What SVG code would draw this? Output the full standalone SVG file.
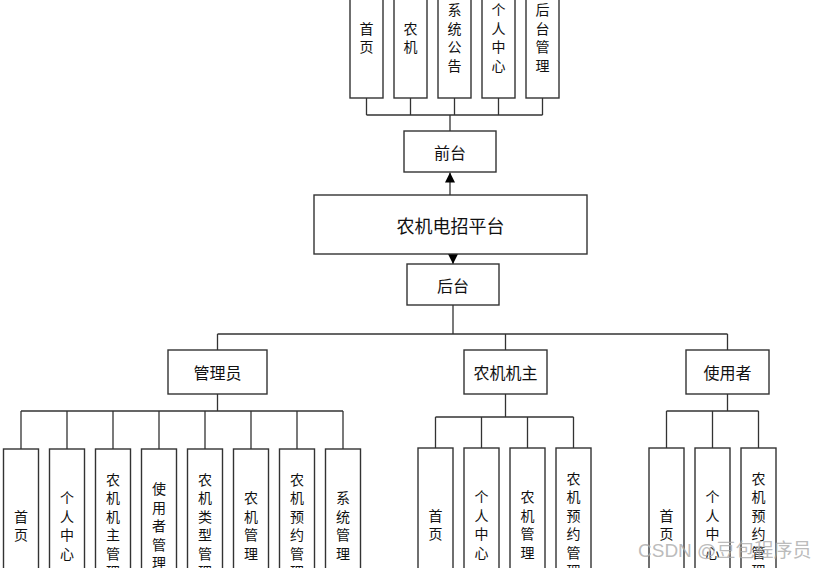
<svg xmlns="http://www.w3.org/2000/svg" width="825" height="568" viewBox="0 0 825 568">
<defs>
<style>
.box{fill:#fff;stroke:#333;stroke-width:1.4}
.ln{fill:none;stroke:#333;stroke-width:1.3}
text{font-family:"Noto Sans CJK SC","Noto Sans",sans-serif;fill:#111}
.v{font-size:14px;text-anchor:middle;dominant-baseline:central}
.h{font-size:16px;text-anchor:middle;dominant-baseline:central}
.wm{font-size:19px;fill:#aaa;fill-opacity:0.8;font-family:"Liberation Sans","Noto Sans CJK SC",sans-serif}
</style>
<marker id="ah" viewBox="0 0 10 10" refX="10" refY="5" markerWidth="10" markerHeight="10" markerUnits="userSpaceOnUse" orient="auto">
<path d="M0,0 L10,5 L0,10 Z" fill="#000"/>
</marker>
</defs>
<rect width="825" height="568" fill="#fff"/>
<g id="connectors">
<path class="ln" d="M366.5,98 V115 M410.5,98 V115 M454.5,98 V115 M498.5,98 V115 M542.5,98 V115 M366.5,115 H542.5 M450,115 V131"/>
<path class="ln" d="M450,195 V172.5" marker-end="url(#ah)"/>
<path class="ln" d="M453,254 V264" marker-end="url(#ah)"/>
<path class="ln" d="M453,305 V334 M217.5,334 H727.5 M217.5,334 V350 M505.5,334 V350 M727.5,334 V350"/>
<path class="ln" d="M217.5,394 V411 M21,411 H343 M21,411 V449 M67,411 V449 M113,411 V449 M159,411 V449 M205,411 V449 M251,411 V449 M297,411 V449 M343,411 V449"/>
<path class="ln" d="M505.5,394 V417 M435.5,417 H573.5 M435.5,417 V448 M481.5,417 V448 M527.5,417 V448 M573.5,417 V448"/>
<path class="ln" d="M727.5,394 V411 M666.5,411 H758.5 M666.5,411 V448 M712.5,411 V448 M758.5,411 V448"/>
</g>
<g id="n-front-home"><rect class="box" x="350" y="-24" width="33" height="122"/><text class="v"><tspan x="366.5" y="27.75">首</tspan><tspan x="366.5" y="46.25">页</tspan></text></g>
<g id="n-front-machine"><rect class="box" x="394" y="-24" width="33" height="122"/><text class="v"><tspan x="410.5" y="27.75">农</tspan><tspan x="410.5" y="46.25">机</tspan></text></g>
<g id="n-front-notice"><rect class="box" x="438" y="-24" width="33" height="122"/><text class="v"><tspan x="454.5" y="9.25">系</tspan><tspan x="454.5" y="27.75">统</tspan><tspan x="454.5" y="46.25">公</tspan><tspan x="454.5" y="64.75">告</tspan></text></g>
<g id="n-front-personal"><rect class="box" x="482" y="-24" width="33" height="122"/><text class="v"><tspan x="498.5" y="9.25">个</tspan><tspan x="498.5" y="27.75">人</tspan><tspan x="498.5" y="46.25">中</tspan><tspan x="498.5" y="64.75">心</tspan></text></g>
<g id="n-front-admin"><rect class="box" x="526" y="-24" width="33" height="122"/><text class="v"><tspan x="542.5" y="9.25">后</tspan><tspan x="542.5" y="27.75">台</tspan><tspan x="542.5" y="46.25">管</tspan><tspan x="542.5" y="64.75">理</tspan></text></g>
<g id="n-front"><rect class="box" x="404" y="131" width="92" height="41"/><text class="h" x="450" y="151.5">前台</text></g>
<g id="n-main"><rect class="box" x="314" y="195" width="273" height="59"/><text class="h" x="450.5" y="224.5" style="font-size:18px">农机电招平台</text></g>
<g id="n-back"><rect class="box" x="407" y="264" width="92" height="41"/><text class="h" x="453" y="284.5">后台</text></g>
<g id="n-admin"><rect class="box" x="168" y="350" width="99" height="44"/><text class="h" x="217.5" y="372">管理员</text></g>
<g id="n-owner"><rect class="box" x="464" y="350" width="83" height="44"/><text class="h" x="505.5" y="372">农机机主</text></g>
<g id="n-user"><rect class="box" x="686" y="350" width="83" height="44"/><text class="h" x="727.5" y="372">使用者</text></g>
<g id="n-a1"><rect class="box" x="3.5" y="449" width="35" height="160"/><text class="v"><tspan x="21" y="515.75">首</tspan><tspan x="21" y="534.25">页</tspan></text></g>
<g id="n-a2"><rect class="box" x="49.5" y="449" width="35" height="160"/><text class="v"><tspan x="67" y="497.25">个</tspan><tspan x="67" y="515.75">人</tspan><tspan x="67" y="534.25">中</tspan><tspan x="67" y="552.75">心</tspan></text></g>
<g id="n-a3"><rect class="box" x="95.5" y="449" width="35" height="160"/><text class="v"><tspan x="113" y="478.75">农</tspan><tspan x="113" y="497.25">机</tspan><tspan x="113" y="515.75">机</tspan><tspan x="113" y="534.25">主</tspan><tspan x="113" y="552.75">管</tspan><tspan x="113" y="571.25">理</tspan></text></g>
<g id="n-a4"><rect class="box" x="141.5" y="449" width="35" height="160"/><text class="v"><tspan x="159" y="488">使</tspan><tspan x="159" y="506.5">用</tspan><tspan x="159" y="525">者</tspan><tspan x="159" y="543.5">管</tspan><tspan x="159" y="562">理</tspan></text></g>
<g id="n-a5"><rect class="box" x="187.5" y="449" width="35" height="160"/><text class="v"><tspan x="205" y="478.75">农</tspan><tspan x="205" y="497.25">机</tspan><tspan x="205" y="515.75">类</tspan><tspan x="205" y="534.25">型</tspan><tspan x="205" y="552.75">管</tspan><tspan x="205" y="571.25">理</tspan></text></g>
<g id="n-a6"><rect class="box" x="233.5" y="449" width="35" height="160"/><text class="v"><tspan x="251" y="497.25">农</tspan><tspan x="251" y="515.75">机</tspan><tspan x="251" y="534.25">管</tspan><tspan x="251" y="552.75">理</tspan></text></g>
<g id="n-a7"><rect class="box" x="279.5" y="449" width="35" height="160"/><text class="v"><tspan x="297" y="478.75">农</tspan><tspan x="297" y="497.25">机</tspan><tspan x="297" y="515.75">预</tspan><tspan x="297" y="534.25">约</tspan><tspan x="297" y="552.75">管</tspan><tspan x="297" y="571.25">理</tspan></text></g>
<g id="n-a8"><rect class="box" x="325.5" y="449" width="35" height="160"/><text class="v"><tspan x="343" y="497.25">系</tspan><tspan x="343" y="515.75">统</tspan><tspan x="343" y="534.25">管</tspan><tspan x="343" y="552.75">理</tspan></text></g>
<g id="n-o1"><rect class="box" x="418" y="448" width="35" height="160"/><text class="v"><tspan x="435.5" y="514.75">首</tspan><tspan x="435.5" y="533.25">页</tspan></text></g>
<g id="n-o2"><rect class="box" x="464" y="448" width="35" height="160"/><text class="v"><tspan x="481.5" y="496.25">个</tspan><tspan x="481.5" y="514.75">人</tspan><tspan x="481.5" y="533.25">中</tspan><tspan x="481.5" y="551.75">心</tspan></text></g>
<g id="n-o3"><rect class="box" x="510" y="448" width="35" height="160"/><text class="v"><tspan x="527.5" y="496.25">农</tspan><tspan x="527.5" y="514.75">机</tspan><tspan x="527.5" y="533.25">管</tspan><tspan x="527.5" y="551.75">理</tspan></text></g>
<g id="n-o4"><rect class="box" x="556" y="448" width="35" height="160"/><text class="v"><tspan x="573.5" y="477.75">农</tspan><tspan x="573.5" y="496.25">机</tspan><tspan x="573.5" y="514.75">预</tspan><tspan x="573.5" y="533.25">约</tspan><tspan x="573.5" y="551.75">管</tspan><tspan x="573.5" y="570.25">理</tspan></text></g>
<g id="n-u1"><rect class="box" x="649" y="448" width="35" height="160"/><text class="v"><tspan x="666.5" y="514.75">首</tspan><tspan x="666.5" y="533.25">页</tspan></text></g>
<g id="n-u2"><rect class="box" x="695" y="448" width="35" height="160"/><text class="v"><tspan x="712.5" y="496.25">个</tspan><tspan x="712.5" y="514.75">人</tspan><tspan x="712.5" y="533.25">中</tspan><tspan x="712.5" y="551.75">心</tspan></text></g>
<g id="n-u3"><rect class="box" x="741" y="448" width="35" height="160"/><text class="v"><tspan x="758.5" y="477.75">农</tspan><tspan x="758.5" y="496.25">机</tspan><tspan x="758.5" y="514.75">预</tspan><tspan x="758.5" y="533.25">约</tspan><tspan x="758.5" y="551.75">管</tspan><tspan x="758.5" y="570.25">理</tspan></text></g>
<text class="wm" x="638" y="557">CSDN @豆包程序员</text>
</svg>
